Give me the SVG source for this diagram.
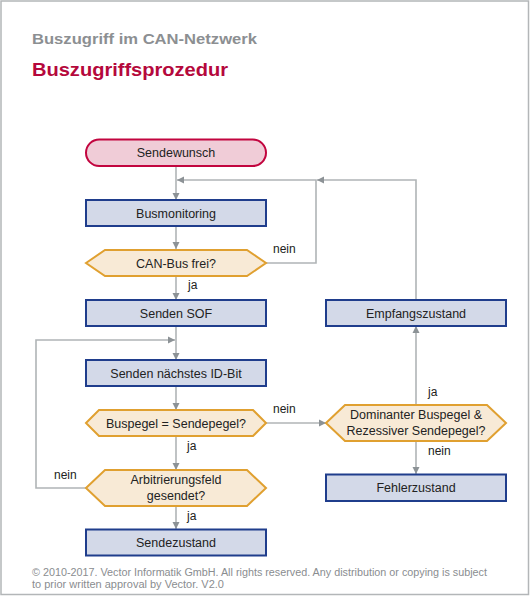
<svg xmlns="http://www.w3.org/2000/svg" width="530" height="596" viewBox="0 0 530 596">
<style>
text{font-family:"Liberation Sans",Arial,sans-serif;}
.lbl{font-size:12.5px;fill:#222;text-anchor:middle;}
.small{font-size:12px;fill:#222;}
.box{fill:#d3d9e8;stroke:#1f3d8c;stroke-width:2;}
.dec{fill:#f8ead6;stroke:#e0a030;stroke-width:2;}
.term{fill:#f0ccd7;stroke:#c2053f;stroke-width:2;}
.conn{fill:none;stroke:#b0b4b6;stroke-width:1.6;}
.foot{font-size:10px;fill:#8a8d90;}
</style>
<defs>
<marker id="ah" markerUnits="userSpaceOnUse" markerWidth="8" markerHeight="8" viewBox="0 0 8 8" refX="7" refY="4" orient="auto">
<path d="M0,0.5 L7,4 L0,7.5 z" fill="#8c9296"/>
</marker>
</defs>
<rect x="1" y="1" width="527.5" height="593.5" fill="#fff" stroke="#b3b6b8" stroke-width="1.5"/>
<text x="32" y="44" textLength="225" lengthAdjust="spacingAndGlyphs" style="font-size:15.5px;font-weight:bold;fill:#8c8f92">Buszugriff im CAN-Netzwerk</text>
<text x="32" y="76" textLength="196" lengthAdjust="spacingAndGlyphs" style="font-size:18.5px;font-weight:bold;fill:#b5083c">Buszugriffsprozedur</text>

<g id="connectors">
<path class="conn" d="M176,166 V200" marker-end="url(#ah)"/>
<path class="conn" d="M176,226 V249" marker-end="url(#ah)"/>
<path class="conn" d="M176,276 V300" marker-end="url(#ah)"/>
<path class="conn" d="M266,263 H316 V180 H177" marker-end="url(#ah)"/>
<path class="conn" d="M176,326 V360" marker-end="url(#ah)"/>
<path class="conn" d="M176,386 V410" marker-end="url(#ah)"/>
<path class="conn" d="M176,436 V470" marker-end="url(#ah)"/>
<path class="conn" d="M176,506 V529" marker-end="url(#ah)"/>
<path class="conn" d="M86,488 H36 V340 H175" marker-end="url(#ah)"/>
<path class="conn" d="M266,423 H326" marker-end="url(#ah)"/>
<path class="conn" d="M416,405 V326" marker-end="url(#ah)"/>
<path class="conn" d="M416,441 V474" marker-end="url(#ah)"/>
<path class="conn" d="M416,300 V180 H317" marker-end="url(#ah)"/>
<text class="small" x="273" y="253">nein</text>
<text class="small" x="188" y="289">ja</text>
<text class="small" x="273" y="413">nein</text>
<text class="small" x="187" y="450">ja</text>
<text class="small" x="54" y="479">nein</text>
<text class="small" x="187" y="520">ja</text>
<text class="small" x="428" y="396">ja</text>
<text class="small" x="428" y="455">nein</text>
</g>

<g id="sendewunsch">
<rect class="term" x="86" y="139.5" width="180" height="26.5" rx="13.25"/>
<text class="lbl" x="176" y="157">Sendewunsch</text>
</g>
<g id="busmonitoring">
<rect class="box" x="86" y="200" width="180" height="26"/>
<text class="lbl" x="176" y="217.5">Busmonitoring</text>
</g>
<g id="canbusfrei">
<polygon class="dec" points="86,263 105,250 247,250 266,263 247,276 105,276"/>
<text class="lbl" x="176" y="267.5">CAN-Bus frei?</text>
</g>
<g id="sendensof">
<rect class="box" x="86" y="300" width="180" height="26"/>
<text class="lbl" x="176" y="317.5">Senden SOF</text>
</g>
<g id="idbit">
<rect class="box" x="86" y="360" width="180" height="26"/>
<text class="lbl" x="176" y="377.5">Senden nächstes ID-Bit</text>
</g>
<g id="buspegel">
<polygon class="dec" points="86,423 99,410 253,410 266,423 253,436 99,436"/>
<text class="lbl" x="176" y="427.5">Buspegel = Sendepegel?</text>
</g>
<g id="arbitrierung">
<polygon class="dec" points="86,488 105,470 247,470 266,488 247,506 105,506"/>
<text class="lbl" x="176" y="484">Arbitrierungsfeld</text>
<text class="lbl" x="176" y="499.5">gesendet?</text>
</g>
<g id="sendezustand">
<rect class="box" x="86" y="529.5" width="180" height="26"/>
<text class="lbl" x="176" y="547">Sendezustand</text>
</g>
<g id="empfangszustand">
<rect class="box" x="326" y="300" width="180" height="26"/>
<text class="lbl" x="416" y="317.5">Empfangszustand</text>
</g>
<g id="dominanter">
<polygon class="dec" points="326,423 345,405 487,405 506,423 487,441 345,441"/>
<text class="lbl" x="416" y="419">Dominanter Buspegel &amp;</text>
<text class="lbl" x="416" y="434.5">Rezessiver Sendepegel?</text>
</g>
<g id="fehlerzustand">
<rect class="box" x="326" y="474.5" width="180" height="26.5"/>
<text class="lbl" x="416" y="492">Fehlerzustand</text>
</g>

<text class="foot" x="32" y="576" textLength="455" lengthAdjust="spacingAndGlyphs">© 2010-2017. Vector Informatik GmbH. All rights reserved. Any distribution or copying is subject</text>
<text class="foot" x="32" y="588" textLength="192" lengthAdjust="spacingAndGlyphs">to prior written approval by Vector. V2.0</text>
</svg>
